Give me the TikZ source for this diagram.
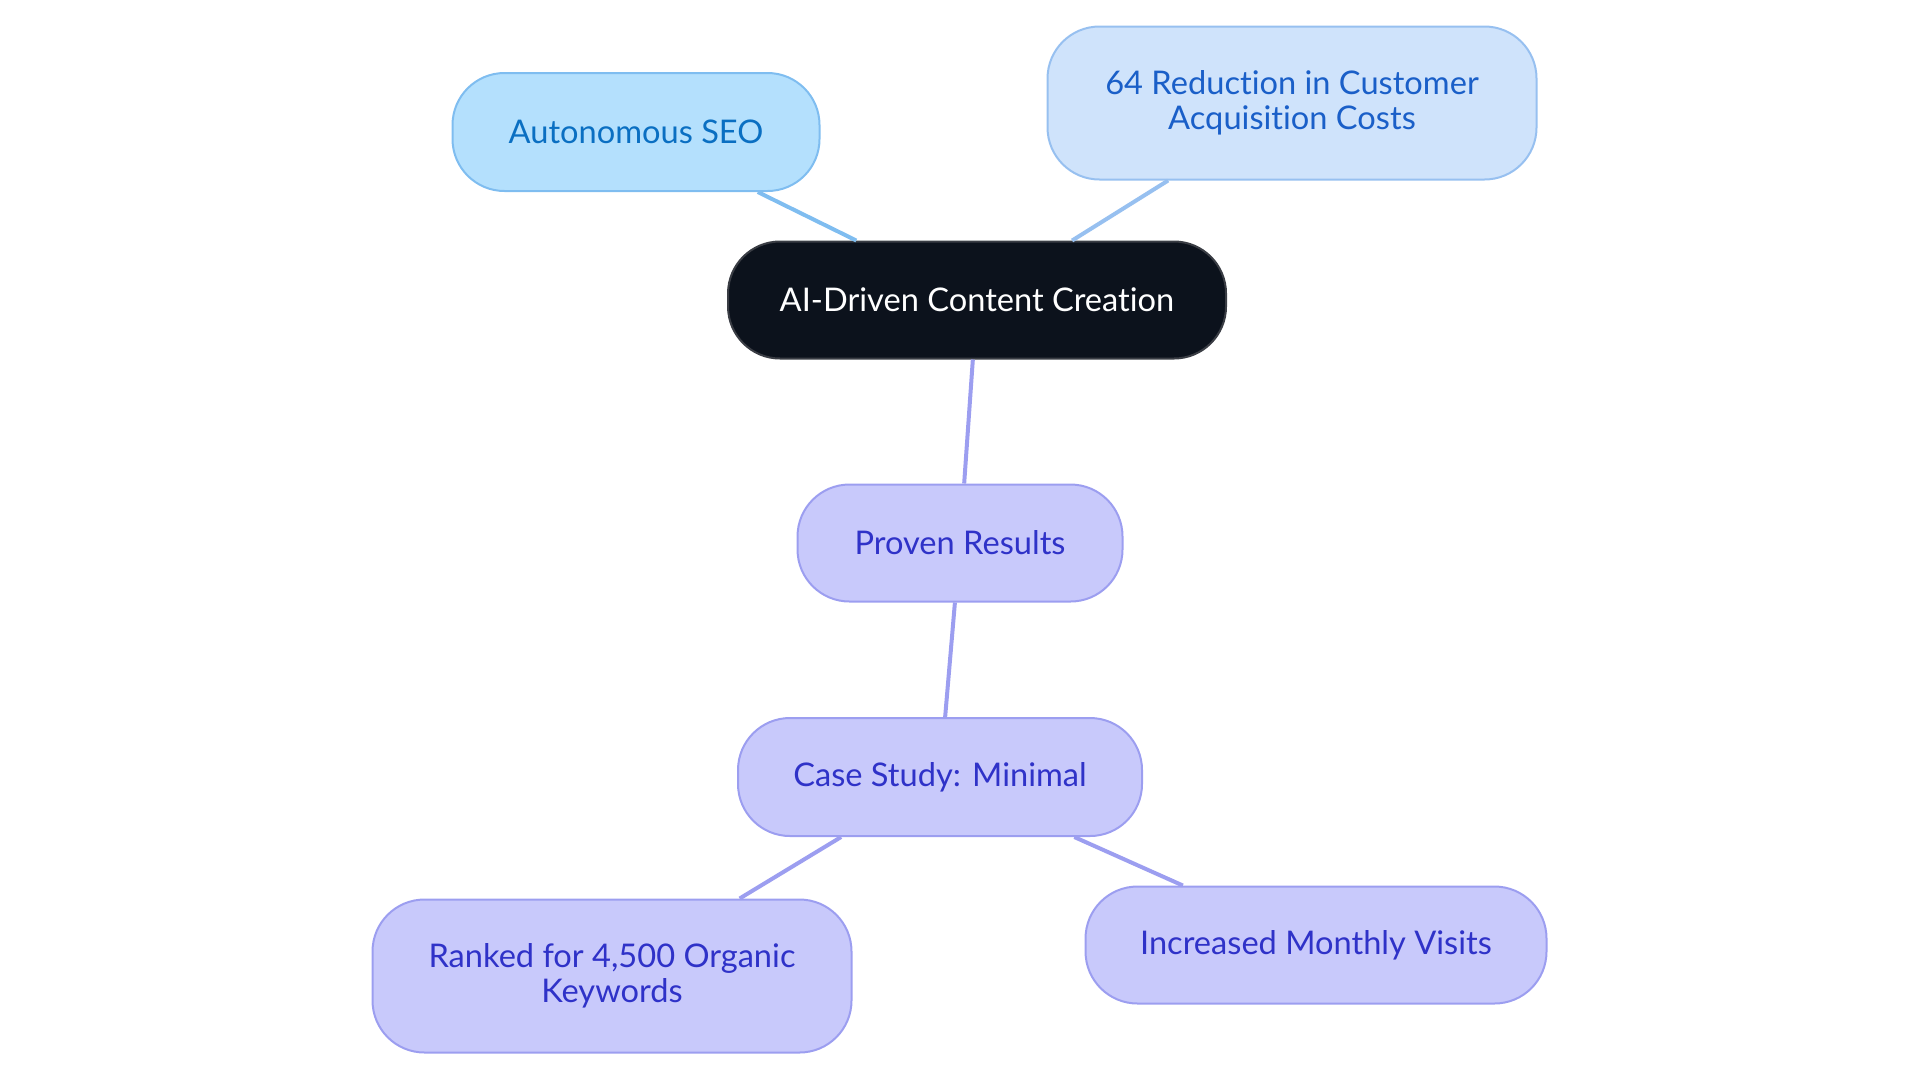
\documentclass[tikz,border=0pt]{standalone}
\usepackage{fontspec}
\setmainfont{Lato}[Ligatures=NoCommon]
\definecolor{aifill}{HTML}{0C121C}
\definecolor{aidraw}{HTML}{3A3D44}
\definecolor{skyfill}{HTML}{B4E0FD}
\definecolor{skydraw}{HTML}{7FBDF0}
\definecolor{skytext}{HTML}{0A6FC2}
\definecolor{palefill}{HTML}{CFE3FB}
\definecolor{paledraw}{HTML}{97C0F0}
\definecolor{paletext}{HTML}{1A5FC8}
\definecolor{purfill}{HTML}{C8C9FB}
\definecolor{purdraw}{HTML}{9C9EF0}
\definecolor{purtext}{HTML}{2F32C8}
\begin{document}
\begin{tikzpicture}[x=0.5pt,y=-0.5pt,
  box/.style={rounded corners=26pt, line width=1pt, align=center, inner sep=0pt,
    font=\fontsize{16.3}{17.5}\selectfont},
  rootbox/.style={box, fill=aifill, draw=aidraw, text=white},
  skybox/.style={box, fill=skyfill, draw=skydraw, text=skytext},
  palebox/.style={box, fill=palefill, draw=paledraw, text=paletext},
  purbox/.style={box, fill=purfill, draw=purdraw, text=purtext},
  skyedge/.style={draw=skydraw, line width=2pt},
  paleedge/.style={draw=paledraw, line width=2pt},
  puredge/.style={draw=purdraw, line width=2pt}]
\useasboundingbox (0,0) rectangle (1920,1083);
\node[rootbox, minimum width=249pt, minimum height=58.5pt] (ai) at (977,300) {AI-Driven Content Creation};
\node[skybox, minimum width=183.5pt, minimum height=59pt] (seo) at (636,132) {Autonomous SEO};
\node[palebox, minimum width=244.5pt, minimum height=76.5pt] (cac) at (1292,103) {64 Reduction in Customer\\Acquisition Costs};
\node[purbox, minimum width=162.5pt, minimum height=58.5pt] (pr) at (960,543) {Proven Results};
\node[purbox, minimum width=202pt, minimum height=59pt] (cs) at (940,777) {Case Study: Minimal};
\node[purbox, minimum width=239.5pt, minimum height=76.5pt] (rk) at (612,976) {Ranked for 4,500 Organic\\Keywords};
\node[purbox, minimum width=230.5pt, minimum height=58.5pt] (mv) at (1316,945) {Increased Monthly Visits};
\draw[skyedge] (ai) -- (seo);
\draw[paleedge] (ai) -- (cac);
\draw[puredge] (ai) -- (pr);
\draw[puredge] (pr) -- (cs);
\draw[puredge] (cs) -- (rk);
\draw[puredge] (cs) -- (mv);
\end{tikzpicture}
\end{document}
